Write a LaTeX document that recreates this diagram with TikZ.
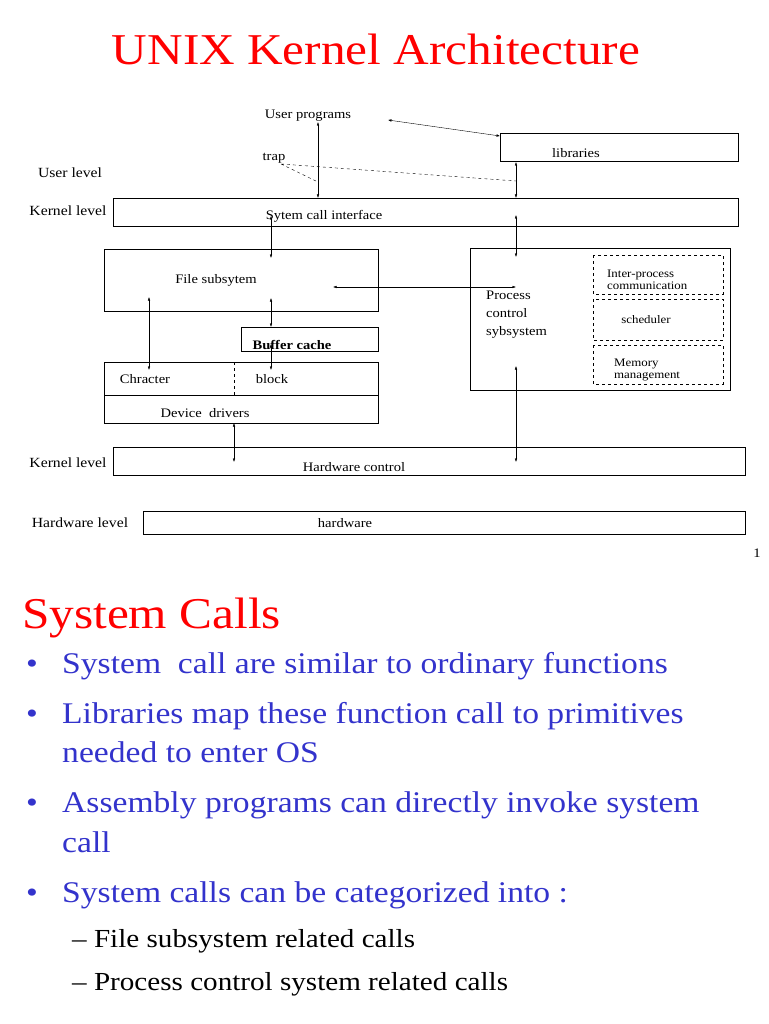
\documentclass[tikz,border=0pt]{standalone}
\usepackage{fontspec}
\setmainfont{Liberation Serif}[FakeStretch=1.12]
\usetikzlibrary{arrows.meta}
\definecolor{bulletblue}{RGB}{51,51,204}
\begin{document}
\begin{tikzpicture}[x=1pt,y=-1pt,
    box/.style={draw,thick,inner sep=0pt},
    dbox/.style={draw,thick,dashed,inner sep=0pt},
    lbl/.style={font=\fontsize{13}{15}\selectfont,inner sep=0pt},
    sm/.style={font=\fontsize{11.5}{12}\selectfont,inner sep=0pt,align=left},
    link/.style={{Latex[length=3.5pt,width=2.5pt]}-{Latex[length=3.5pt,width=2.5pt]}},
    big/.style={font=\fontsize{30}{36}\selectfont,text=bulletblue,inner sep=0pt,anchor=base west},
    sub/.style={font=\fontsize{26}{30}\selectfont,inner sep=0pt,anchor=base west}]
\useasboundingbox (0,0) rectangle (768,1024);
\fill[white] (0,0) rectangle (768,1024);
% title
\node[font=\fontsize{44}{48}\selectfont,text=red,anchor=base] (title) at (376,65) {UNIX Kernel Architecture};
% boxes
\draw[box] (500,133) rectangle (738,161);
\node[lbl] (lib) at (576,153) {libraries};
\draw[box] (113,198) rectangle (738,226);
\node[lbl] (sci) at (324,216) {Sytem call interface};
\draw[box] (104,249) rectangle (378,311);
\node[lbl] (fs) at (216,280) {File subsytem};
\draw[box] (241,327) rectangle (378,351);
\node[lbl,font=\fontsize{13}{15}\selectfont\bfseries] (bc) at (292,345) {Buffer cache};
\draw[box] (104,362) rectangle (378,395);
\draw[thick,dashed] (234,362) -- (234,395);
\node[lbl] (chr) at (145,379) {Chracter};
\node[lbl] (blk) at (272,379) {block};
\draw[box] (104,395) rectangle (378,423);
\node[lbl] (dd) at (205,413) {Device~~drivers};
\draw[box] (470,248) rectangle (730,390);
\node[lbl,align=left,anchor=north west,font=\fontsize{13}{18}\selectfont] (pcs) at (486,291) {Process\\control\\sybsystem};
\draw[dbox] (593,255) rectangle (723,294);
\node[sm,anchor=west] (ipc) at (607,280) {Inter-process\\communication};
\draw[dbox] (593,299) rectangle (723,340);
\node[sm] (sch) at (646,320) {scheduler};
\draw[dbox] (593,345) rectangle (723,384);
\node[sm,anchor=west] (mm) at (614,370) {Memory\\management};
\draw[box] (113,447) rectangle (745,475);
\node[lbl] (hc) at (354,467) {Hardware control};
\draw[box] (143,511) rectangle (745,534);
\node[lbl] (hw) at (345,523) {hardware};
% side labels
\node[lbl,font=\fontsize{13}{15}\selectfont] (up) at (308,116) {User programs};
\node[lbl] (trap) at (274,158) {trap};
\node[lbl,font=\fontsize{14}{16}\selectfont] (ul) at (70,173) {User level};
\node[lbl,font=\fontsize{14}{16}\selectfont] (kl1) at (68,211) {Kernel level};
\node[lbl,font=\fontsize{14}{16}\selectfont] (kl2) at (68,463) {Kernel level};
\node[lbl,font=\fontsize{14}{16}\selectfont] (hl) at (80,523) {Hardware level};
\node[lbl] (pg) at (757,553) {1};
% connectors
\coordinate (a1) at (318,122); \coordinate (a2) at (318,198);
\draw[link] (a1) -- (a2);
\coordinate (b1) at (388,120); \coordinate (b2) at (500,136);
\draw[link] (b1) -- (b2);
\coordinate (c1) at (516,162); \coordinate (c2) at (516,198);
\draw[link] (c1) -- (c2);
\coordinate (t0) at (281,164); \coordinate (t1) at (318,182); \coordinate (t2) at (516,181);
\draw[dashed] (t0) -- (t1) (t0) -- (t2);
\coordinate (d1) at (271,216); \coordinate (d2) at (271,258);
\draw[link] (d1) -- (d2);
\coordinate (e1) at (516,215); \coordinate (e2) at (516,257);
\draw[link] (e1) -- (e2);
\coordinate (f1) at (333,287); \coordinate (f2) at (516,287);
\draw[link] (f1) -- (f2);
\coordinate (g1) at (271,298); \coordinate (g2) at (271,327);
\draw[link] (g1) -- (g2);
\coordinate (h1) at (271,344); \coordinate (h2) at (271,370);
\draw[link] (h1) -- (h2);
\coordinate (i1) at (149,297); \coordinate (i2) at (149,370);
\draw[link] (i1) -- (i2);
\coordinate (j1) at (234,423); \coordinate (j2) at (234,462);
\draw[link] (j1) -- (j2);
\coordinate (k1) at (516,366); \coordinate (k2) at (516,462);
\draw[link] (k1) -- (k2);
% lower slide
\node[font=\fontsize{44}{48}\selectfont,text=red,anchor=base west,inner sep=0pt] (sc) at (22,628) {System Calls};
\node[big] (m1) at (26,673) {\textbullet};
\node[big] (b1t) at (62,673) {System~ call are similar to ordinary functions};
\node[big] (m2) at (26,723) {\textbullet};
\node[big] (b2t) at (62,723) {Libraries map these function call to primitives};
\node[big] (b2u) at (62,762) {needed to enter OS};
\node[big] (m3) at (26,812) {\textbullet};
\node[big] (b3t) at (62,812) {Assembly programs can directly invoke system};
\node[big] (b3u) at (62,852) {call};
\node[big] (m4) at (26,902) {\textbullet};
\node[big] (b4t) at (62,902) {System calls can be categorized into :};
\node[sub] (s1) at (72,947) {\textendash\ File subsystem related calls};
\node[sub] (s2) at (72,990) {\textendash\ Process control system related calls};
\end{tikzpicture}
\end{document}
